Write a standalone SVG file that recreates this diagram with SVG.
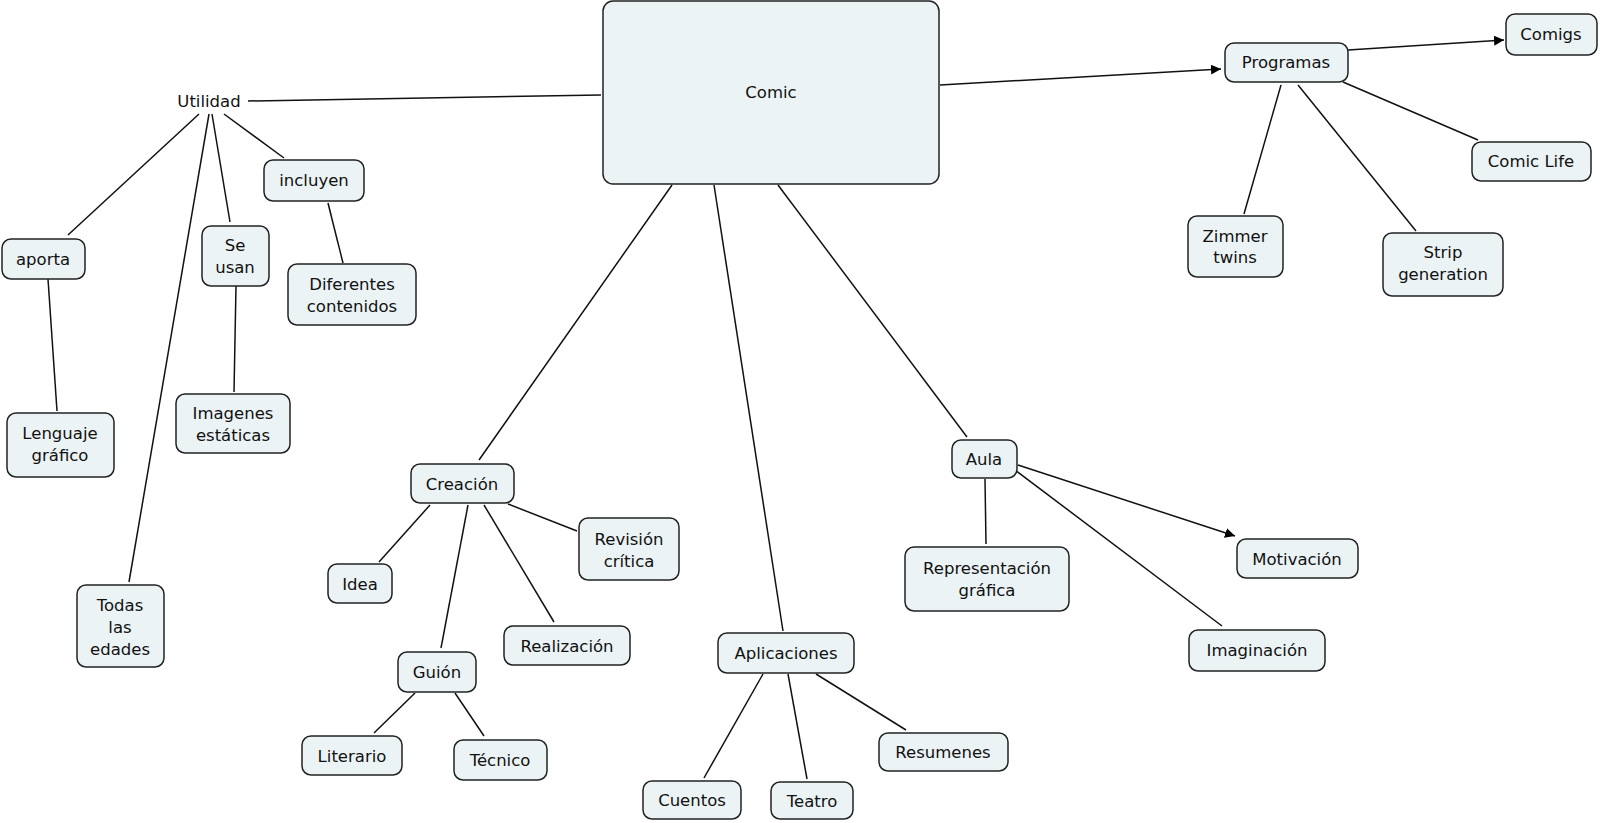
<svg xmlns="http://www.w3.org/2000/svg" width="1600" height="823" viewBox="0 0 1600 823">
<defs>
<style>
.n rect{fill:#ebf3f5;stroke:#222;stroke-width:1.5}
text{font-family:"DejaVu Sans",Verdana,sans-serif;font-size:16.5px;fill:#111;text-anchor:middle}
.c line{stroke:#111;stroke-width:1.5}
</style>
<marker id="a" viewBox="0 0 10 10" refX="10" refY="5" markerWidth="10" markerHeight="10" markerUnits="userSpaceOnUse" orient="auto"><path d="M0,0L10,5L0,10z" fill="#000"/></marker>
</defs>
<rect width="1600" height="823" fill="#fff"/>
<g class="c">
<line x1="248" y1="101" x2="601" y2="95"/>
<line x1="940" y1="85" x2="1221" y2="69" marker-end="url(#a)" style="stroke-width:1.5"/>
<line x1="1348" y1="50" x2="1504" y2="40" marker-end="url(#a)"/>
<line x1="1343" y1="82" x2="1478" y2="140"/>
<line x1="1281" y1="85" x2="1244" y2="214"/>
<line x1="1298" y1="85" x2="1416" y2="231"/>
<line x1="199" y1="114" x2="68" y2="235"/>
<line x1="209" y1="114" x2="129" y2="582"/>
<line x1="212" y1="114" x2="230" y2="222"/>
<line x1="224" y1="114" x2="284" y2="158"/>
<line x1="48" y1="279" x2="57" y2="411"/>
<line x1="236" y1="286" x2="234" y2="392"/>
<line x1="328" y1="203" x2="343" y2="263"/>
<line x1="672" y1="185" x2="479" y2="460"/>
<line x1="714" y1="185" x2="783" y2="631"/>
<line x1="778" y1="185" x2="967" y2="437"/>
<line x1="430" y1="505" x2="379" y2="562"/>
<line x1="468" y1="505" x2="441" y2="648"/>
<line x1="484" y1="505" x2="554" y2="622"/>
<line x1="508" y1="504" x2="577" y2="531"/>
<line x1="415" y1="693" x2="374" y2="733"/>
<line x1="455" y1="693" x2="484" y2="736"/>
<line x1="763" y1="674" x2="704" y2="778"/>
<line x1="788" y1="674" x2="807" y2="779"/>
<line x1="816" y1="674" x2="906" y2="730"/>
<line x1="985" y1="479" x2="986" y2="544"/>
<line x1="1018" y1="465" x2="1235" y2="536" marker-end="url(#a)"/>
<line x1="1015" y1="470" x2="1222" y2="626"/>
</g>
<g id="comic" class="n"><rect x="603" y="1" width="336" height="183" rx="10"/><text x="771" y="98">Comic</text></g>
<g id="utilidad"><text x="209" y="107">Utilidad</text></g>
<g id="programas" class="n"><rect x="1225" y="43" width="123" height="39" rx="9"/><text x="1286" y="68">Programas</text></g>
<g id="comigs" class="n"><rect x="1506" y="14" width="91" height="41" rx="9"/><text x="1551" y="40">Comigs</text></g>
<g id="comiclife" class="n"><rect x="1472" y="142" width="119" height="39" rx="9"/><text x="1531" y="167">Comic Life</text></g>
<g id="zimmer" class="n"><rect x="1188" y="216" width="95" height="61" rx="9"/><text x="1235" y="242">Zimmer</text><text x="1235" y="263">twins</text></g>
<g id="strip" class="n"><rect x="1383" y="233" width="120" height="63" rx="9"/><text x="1443" y="258">Strip</text><text x="1443" y="280">generation</text></g>
<g id="aporta" class="n"><rect x="2" y="239" width="83" height="40" rx="9"/><text x="43" y="265">aporta</text></g>
<g id="lenguaje" class="n"><rect x="7" y="413" width="107" height="64" rx="9"/><text x="60" y="439">Lenguaje</text><text x="60" y="461">gráfico</text></g>
<g id="seusan" class="n"><rect x="202" y="226" width="67" height="60" rx="9"/><text x="235" y="251">Se</text><text x="235" y="273">usan</text></g>
<g id="incluyen" class="n"><rect x="264" y="160" width="100" height="41" rx="9"/><text x="314" y="186">incluyen</text></g>
<g id="diferentes" class="n"><rect x="288" y="264" width="128" height="61" rx="9"/><text x="352" y="290">Diferentes</text><text x="352" y="312">contenidos</text></g>
<g id="imagenes" class="n"><rect x="176" y="394" width="114" height="59" rx="9"/><text x="233" y="419">Imagenes</text><text x="233" y="441">estáticas</text></g>
<g id="todas" class="n"><rect x="77" y="585" width="87" height="82" rx="9"/><text x="120" y="611">Todas</text><text x="120" y="633">las</text><text x="120" y="655">edades</text></g>
<g id="creacion" class="n"><rect x="411" y="464" width="103" height="39" rx="9"/><text x="462" y="490">Creación</text></g>
<g id="idea" class="n"><rect x="328" y="564" width="64" height="39" rx="9"/><text x="360" y="590">Idea</text></g>
<g id="revision" class="n"><rect x="579" y="518" width="100" height="62" rx="9"/><text x="629" y="545">Revisión</text><text x="629" y="567">crítica</text></g>
<g id="realizacion" class="n"><rect x="504" y="626" width="126" height="39" rx="9"/><text x="567" y="652">Realización</text></g>
<g id="guion" class="n"><rect x="398" y="652" width="78" height="40" rx="9"/><text x="437" y="678">Guión</text></g>
<g id="literario" class="n"><rect x="302" y="736" width="100" height="39" rx="9"/><text x="352" y="762">Literario</text></g>
<g id="tecnico" class="n"><rect x="454" y="740" width="93" height="40" rx="9"/><text x="500" y="766">Técnico</text></g>
<g id="aplicaciones" class="n"><rect x="718" y="633" width="136" height="40" rx="9"/><text x="786" y="659">Aplicaciones</text></g>
<g id="cuentos" class="n"><rect x="643" y="781" width="98" height="38" rx="9"/><text x="692" y="806">Cuentos</text></g>
<g id="teatro" class="n"><rect x="771" y="782" width="82" height="37" rx="9"/><text x="812" y="807">Teatro</text></g>
<g id="resumenes" class="n"><rect x="879" y="733" width="129" height="38" rx="9"/><text x="943" y="758">Resumenes</text></g>
<g id="aula" class="n"><rect x="952" y="440" width="65" height="38" rx="9"/><text x="984" y="465">Aula</text></g>
<g id="representacion" class="n"><rect x="905" y="547" width="164" height="64" rx="9"/><text x="987" y="574">Representación</text><text x="987" y="596">gráfica</text></g>
<g id="motivacion" class="n"><rect x="1237" y="539" width="121" height="39" rx="9"/><text x="1297" y="565">Motivación</text></g>
<g id="imaginacion" class="n"><rect x="1189" y="630" width="136" height="41" rx="9"/><text x="1257" y="656">Imaginación</text></g>
</svg>
